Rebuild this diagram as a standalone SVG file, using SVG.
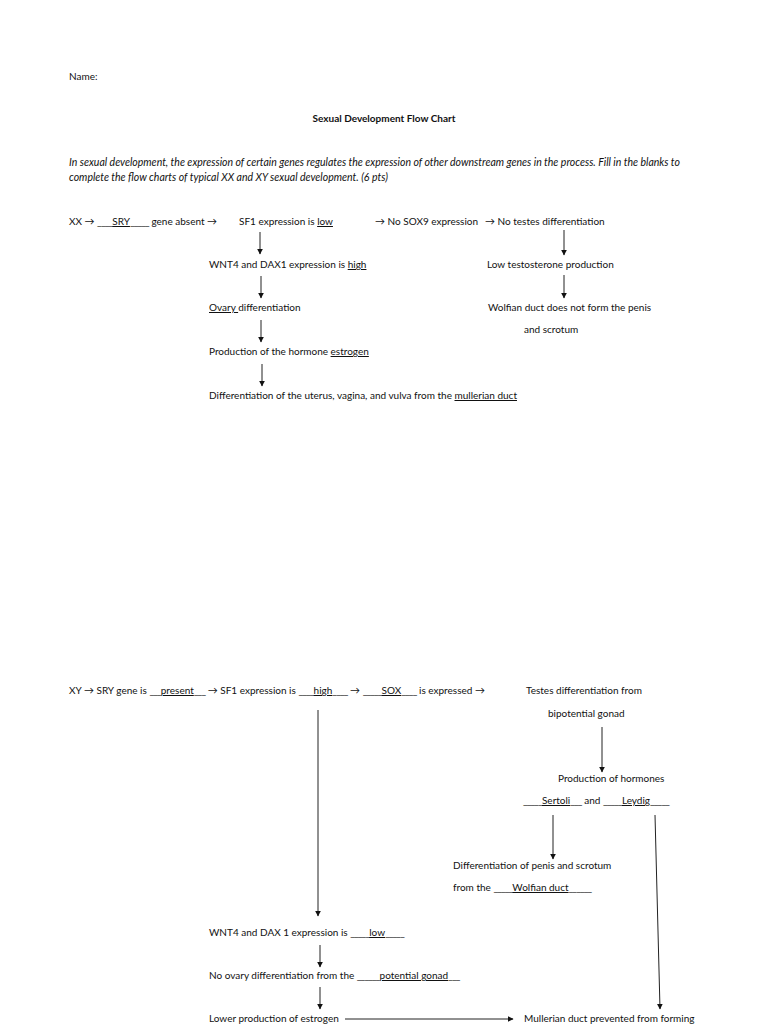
<svg xmlns="http://www.w3.org/2000/svg" width="768" height="1024" viewBox="0 0 768 1024">
<style>
text{font-family:Lato,"Liberation Sans",sans-serif;font-size:10px;fill:#111}
.t{font-weight:bold;font-size:10px}
.i{font-style:italic;font-size:10.5px}
.u{text-decoration:underline}
.b{letter-spacing:-0.8px}
.c{stroke:#222;stroke-width:1;fill:none}
</style>
<defs>
<marker id="ah" viewBox="0 0 10 10" refX="9" refY="5" markerWidth="6" markerHeight="6" orient="auto" markerUnits="userSpaceOnUse">
<path d="M0,0L10,5L0,10z" fill="#111"/>
</marker>
</defs>
<rect width="768" height="1024" fill="#fff"/>
<g id="header">
<text x="69" y="80">Name:</text>
<text class="t" x="384" y="122" text-anchor="middle">Sexual Development Flow Chart</text>
<text class="i" x="69" y="166">In sexual development, the expression of certain genes regulates the expression of other downstream genes in the process.  Fill in the blanks to</text>
<text class="i" x="69" y="181">complete the flow charts of typical XX and XY sexual development. (6 pts)</text>
</g>
<g id="connectors">
<line class="c" x1="260" y1="232" x2="260" y2="254" marker-end="url(#ah)"/>
<line class="c" x1="261" y1="276" x2="261" y2="298" marker-end="url(#ah)"/>
<line class="c" x1="261" y1="320" x2="261" y2="342" marker-end="url(#ah)"/>
<line class="c" x1="262" y1="364" x2="262" y2="386" marker-end="url(#ah)"/>
<line class="c" x1="564" y1="230" x2="564" y2="255" marker-end="url(#ah)"/>
<line class="c" x1="564" y1="275" x2="564" y2="298" marker-end="url(#ah)"/>
<line class="c" x1="602" y1="727" x2="602" y2="772" marker-end="url(#ah)"/>
<line class="c" x1="553" y1="815" x2="553" y2="859" marker-end="url(#ah)"/>
<line class="c" x1="318" y1="710" x2="318" y2="916" marker-end="url(#ah)"/>
<line class="c" x1="320" y1="945" x2="320" y2="967" marker-end="url(#ah)"/>
<line class="c" x1="320" y1="987" x2="320" y2="1009" marker-end="url(#ah)"/>
<line class="c" x1="655" y1="815" x2="660" y2="1009" marker-end="url(#ah)"/>
<line class="c" x1="345" y1="1019" x2="513" y2="1019" marker-end="url(#ah)"/>
</g>
<g id="xx-start"><text x="69" y="225">XX → <tspan class="b">____</tspan><tspan class="u">SRY</tspan><tspan class="b">_____</tspan> gene absent →</text></g>
<g id="xx-sf1"><text x="239" y="225">SF1 expression is <tspan class="u">low </tspan></text></g>
<g id="xx-sox9"><text x="375" y="225">→ No SOX9 expression</text></g>
<g id="xx-testes"><text x="485" y="225">→ No testes differentiation</text></g>
<g id="xx-wnt4"><text x="209" y="268">WNT4 and DAX1 expression is <tspan class="u">high</tspan></text></g>
<g id="xx-ovary"><text x="209" y="311"><tspan class="u">Ovary </tspan> differentiation</text></g>
<g id="xx-estrogen"><text x="209" y="355">Production of the hormone <tspan class="u">estrogen</tspan></text></g>
<g id="xx-uterus"><text x="209" y="399">Differentiation of the uterus, vagina, and vulva from the <tspan class="u">mullerian duct</tspan></text></g>
<g id="xx-testosterone"><text x="487" y="268">Low testosterone production</text></g>
<g id="xx-wolffian"><text x="488" y="311">Wolfian duct does not form the penis</text><text x="524" y="333">and scrotum</text></g>
<g id="xy-start"><text x="69" y="694">XY → SRY gene is <tspan class="b">___</tspan><tspan class="u">present</tspan><tspan class="b">___</tspan> → SF1 expression is <tspan class="b">____</tspan><tspan class="u">high</tspan><tspan class="b">____</tspan> → <tspan class="b">_____</tspan><tspan class="u">SOX</tspan><tspan class="b">____</tspan> is expressed →</text></g>
<g id="xy-testes"><text x="526" y="694">Testes differentiation from</text><text x="548" y="717">bipotential gonad</text></g>
<g id="xy-hormones"><text x="558" y="782">Production of hormones</text><text x="523" y="804"><tspan class="b">_____</tspan><tspan class="u">Sertoli</tspan><tspan class="b">___</tspan> and <tspan class="b">_____</tspan><tspan class="u">Leydig</tspan><tspan class="b">_____</tspan></text></g>
<g id="xy-penis"><text x="453" y="869">Differentiation of penis and scrotum</text><text x="453" y="891">from the <tspan class="b">_____</tspan><tspan class="u">Wolfian duct</tspan><tspan class="b">______</tspan></text></g>
<g id="xy-wnt4"><text x="209" y="936">WNT4 and DAX 1 expression is <tspan class="b">_____</tspan><tspan class="u">low</tspan><tspan class="b">_____</tspan></text></g>
<g id="xy-ovary"><text x="209" y="979">No ovary differentiation from the <tspan class="b">______</tspan><tspan class="u">potential gonad</tspan><tspan class="b">___</tspan></text></g>
<g id="xy-estrogen"><text x="209" y="1022">Lower production of estrogen</text></g>
<g id="xy-mullerian"><text x="524" y="1022">Mullerian duct prevented from forming</text></g>
</svg>
